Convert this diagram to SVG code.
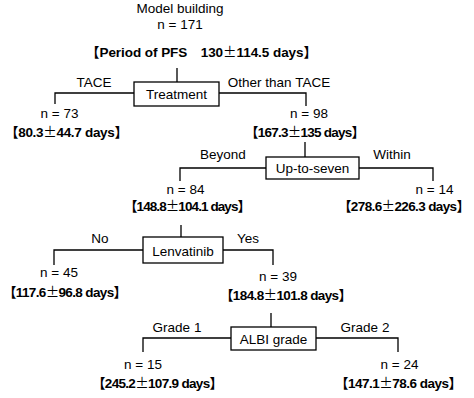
<svg xmlns="http://www.w3.org/2000/svg" width="474" height="398" viewBox="0 0 474 398">
<style>
text{font-family:"Liberation Sans","Noto Sans CJK JP",Arial,sans-serif;fill:#000;text-anchor:middle}
.r{font-size:13.5px}
.b{font-size:13.5px;font-weight:bold}
.pm{font-weight:normal;font-family:"Noto Sans CJK JP",sans-serif}
.box{fill:#fff;stroke:#000;stroke-width:1.3}
.ln{fill:none;stroke:#000;stroke-width:1.3}
</style>
<rect width="474" height="398" fill="#fff"/>
<g id="connectors">
<path class="ln" d="M177,68V82 M134,93H55V104 M219,93H306V106"/>
<path class="ln" d="M305,142V157 M266,168H180V181 M359,168H433V181"/>
<path class="ln" d="M181,225V237 M143,250H54V265 M223,250H273V265"/>
<path class="ln" d="M271,313V327 M231,338H143V352 M316,338H398V352"/>
<text class="r" x="94" y="87">TACE</text>
<text class="r" x="279" y="87">Other than TACE</text>
<text class="r" x="223" y="159">Beyond</text>
<text class="r" x="392" y="159">Within</text>
<text class="r" x="100" y="243">No</text>
<text class="r" x="248" y="243">Yes</text>
<text class="r" x="177" y="332">Grade 1</text>
<text class="r" x="365" y="332">Grade 2</text>
</g>
<g id="root">
<text class="r" x="180" y="13">Model building</text>
<text class="r" x="180" y="29">n = 171</text>
<text class="b" x="201.5" y="57" textLength="231" lengthAdjust="spacing">【Period of PFS　130<tspan class="pm">±</tspan>114.5 days】</text>
</g>
<g id="treatment">
<rect class="box" x="134" y="82" width="85" height="24"/>
<text class="r" x="176.5" y="99">Treatment</text>
</g>
<g id="tace">
<text class="r" x="59.5" y="118">n = 73</text>
<text class="b" x="66.5" y="137" textLength="123" lengthAdjust="spacing">【80.3<tspan class="pm">±</tspan>44.7 days】</text>
</g>
<g id="other">
<text class="r" x="309" y="118">n = 98</text>
<text class="b" x="305" y="137" textLength="120" lengthAdjust="spacing">【167.3<tspan class="pm">±</tspan>135 days】</text>
</g>
<g id="uptoseven">
<rect class="box" x="266" y="157" width="93" height="22"/>
<text class="r" x="312.5" y="173">Up-to-seven</text>
</g>
<g id="beyond">
<text class="r" x="185.5" y="194">n = 84</text>
<text class="b" x="187.5" y="211" textLength="127" lengthAdjust="spacing">【148.8<tspan class="pm">±</tspan>104.1 days】</text>
</g>
<g id="within">
<text class="r" x="434.5" y="194">n = 14</text>
<text class="b" x="404" y="211" textLength="132" lengthAdjust="spacing">【278.6<tspan class="pm">±</tspan>226.3 days】</text>
</g>
<g id="lenvatinib">
<rect class="box" x="143" y="237" width="80" height="26"/>
<text class="r" x="183" y="256">Lenvatinib</text>
</g>
<g id="no">
<text class="r" x="59" y="277">n = 45</text>
<text class="b" x="65" y="297" textLength="124" lengthAdjust="spacing">【117.6<tspan class="pm">±</tspan>96.8 days】</text>
</g>
<g id="yes">
<text class="r" x="278" y="281">n = 39</text>
<text class="b" x="286" y="300" textLength="132" lengthAdjust="spacing">【184.8<tspan class="pm">±</tspan>101.8 days】</text>
</g>
<g id="albi">
<rect class="box" x="231" y="327" width="85" height="23"/>
<text class="r" x="273.5" y="344">ALBI grade</text>
</g>
<g id="grade1">
<text class="r" x="143" y="369">n = 15</text>
<text class="b" x="157.5" y="388" textLength="131" lengthAdjust="spacing">【245.2<tspan class="pm">±</tspan>107.9 days】</text>
</g>
<g id="grade2">
<text class="r" x="399.5" y="369">n = 24</text>
<text class="b" x="398.5" y="388" textLength="127" lengthAdjust="spacing">【147.1<tspan class="pm">±</tspan>78.6 days】</text>
</g>
</svg>
